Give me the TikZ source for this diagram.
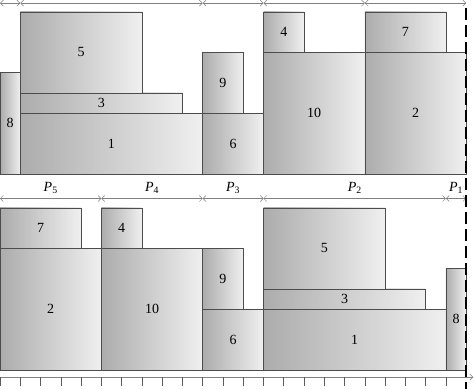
\documentclass[tikz,border=0pt]{standalone}
\usepackage{fontspec}
\setmainfont{Liberation Serif}
\usetikzlibrary{arrows.meta}
\newcommand\pbx[6]{%
  \path[pbox] (#2,#3) rectangle (#4,#5);
  \node[lbl] (#1) at ({(#2+#4)/2},{(#3+#5)/2}) {#6};}
\begin{document}
\begin{tikzpicture}[x=20.27pt,y=20.27pt,
  pbox/.style={draw=black!70, line width=0.6pt, left color=gray!65, right color=gray!12},
  lbl/.style={font=\fontsize{14}{14}\selectfont, inner sep=0pt},
  dim/.style={draw=gray, line width=0.5pt, {Straight Barb[length=3pt,width=6pt]}-{Straight Barb[length=3pt,width=6pt]}},
  plbl/.style={font=\fontsize{14}{14}\selectfont, inner sep=0pt},
  axisline/.style={draw=gray, line width=0.6pt},
  tickline/.style={draw=black!65, line width=0.6pt},
  cutline/.style={draw=black, line width=2pt, dash pattern=on 12pt off 5pt}
]
\useasboundingbox (0,-0.937) rectangle (23.384,18.253);
\def\G{9.67}
% ---- top packing ----
\pbx{ta8}{0}{\G}{1}{\G+5}{8}
\pbx{ta1}{1}{\G}{10}{\G+3}{1}
\pbx{ta3}{1}{\G+3}{9}{\G+4}{3}
\pbx{ta5}{1}{\G+4}{7}{\G+8}{5}
\pbx{ta6}{10}{\G}{13}{\G+3}{6}
\pbx{ta9}{10}{\G+3}{12}{\G+6}{9}
\pbx{ta10}{13}{\G}{18}{\G+6}{10}
\pbx{ta4}{13}{\G+6}{15}{\G+8}{4}
\pbx{ta2}{18}{\G}{23}{\G+6}{2}
\pbx{ta7}{18}{\G+6}{22}{\G+8}{7}
% ---- bottom packing ----
\pbx{b7}{0}{6}{4}{8}{7}
\pbx{b2}{0}{0}{5}{6}{2}
\pbx{b4}{5}{6}{7}{8}{4}
\pbx{b10}{5}{0}{10}{6}{10}
\pbx{b6}{10}{0}{13}{3}{6}
\pbx{b9}{10}{3}{12}{6}{9}
\pbx{b1}{13}{0}{22}{3}{1}
\pbx{b3}{13}{3}{21}{4}{3}
\pbx{b5}{13}{4}{19}{8}{5}
\pbx{b8}{22}{0}{23}{5}{8}
% ---- top dimension line ----
\foreach \i/\x in {0/0,1/1,2/10,3/13,4/18,5/23} {\coordinate (t\i) at (\x,18.1);}
\foreach \a/\b in {0/1,1/2,2/3,3/4,4/5} {\draw[dim] (t\a) -- (t\b);}
% ---- middle dimension line ----
\foreach \i/\x in {0/0,1/5,2/10,3/13,4/22,5/23} {\coordinate (m\i) at (\x,8.46);}
\foreach \a/\b in {0/1,1/2,2/3,3/4,4/5} {\draw[dim] (m\a) -- (m\b);}
\node[plbl] (p5) at (2.5,9.0) {\textit{P}\textsubscript{5}};
\node[plbl] (p4) at (7.5,9.0) {\textit{P}\textsubscript{4}};
\node[plbl] (p3) at (11.5,9.0) {\textit{P}\textsubscript{3}};
\node[plbl] (p2) at (17.5,9.0) {\textit{P}\textsubscript{2}};
\node[plbl] (p1) at (22.5,9.0) {\textit{P}\textsubscript{1}};
% ---- axis ----
\coordinate (ax0) at (0,-0.35);
\coordinate (ax1) at (23.35,-0.35);
\draw[axisline, -{Straight Barb[length=3pt,width=6pt]}] (ax0) -- (ax1);
\foreach \k in {0,...,22} {\draw[tickline] (\k,-0.35) -- (\k,-0.8);}
% ---- cut line ----
\coordinate (c0) at (23,17.86);
\coordinate (c1) at (23,-0.94);
\draw[cutline] (c0) -- (c1);
\end{tikzpicture}
\end{document}
